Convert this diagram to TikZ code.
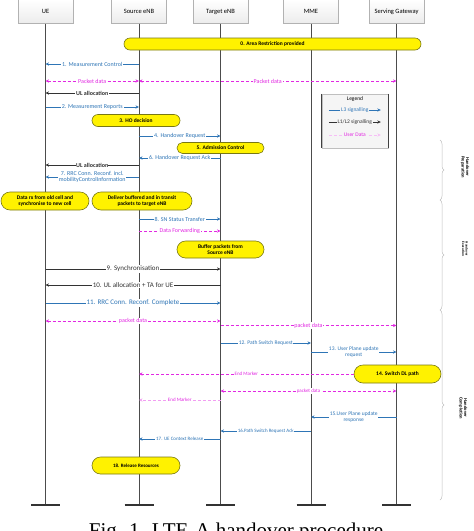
\documentclass[tikz,border=0pt]{standalone}
\usepackage{fontspec}
\setmainfont{Carlito}
\newfontfamily\capfont{Liberation Serif}
\usetikzlibrary{arrows.meta,shapes.misc,decorations.pathreplacing}
\definecolor{sigblue}{RGB}{46,117,182}
\definecolor{umag}{RGB}{226,40,226}
\definecolor{pillline}{RGB}{120,120,20}
\newcommand\fsz[1]{\fontsize{#1}{#1}\selectfont}
\tikzset{
  actor/.style={draw=gray!60, top color=white, bottom color=gray!15, minimum width=55pt, minimum height=24pt, font=\fsz{6.5}},
  life/.style={draw=gray!60!black, line width=0.9pt},
  foot/.style={draw=gray!40!black, line width=2.6pt},
  pill/.style={rounded rectangle, draw=pillline, line width=0.6pt, fill=yellow, font=\bfseries\fsz{5.5}, align=center, inner sep=1pt},
  tip/.style={-{Stealth[length=3.5pt,width=3.2pt]}},
  l3/.style={color=sigblue, line width=0.7pt, tip},
  l12/.style={color=black!80, line width=0.7pt, tip},
  udata/.style={color=umag, line width=0.7pt, dash pattern=on 3pt off 2pt, tip},
  ubi/.style={udata, {Stealth[length=3.5pt,width=3.2pt]}-{Stealth[length=3.5pt,width=3.2pt]}},
  lbl/.style={fill=white, inner sep=0.8pt, font=\fsz{6}, align=center},
  phase/.style={font=\bfseries\fsz{4.5}, align=center, rotate=-90, inner sep=0pt},
  brace/.style={draw=gray!50, line width=0.5pt, decorate, decoration={brace, amplitude=4pt}}
}
\begin{document}
\begin{tikzpicture}[x=1pt, y=-1pt]
  \useasboundingbox (0,0) rectangle (474,531);

  \node[actor] (ue) at (45.5,11.5) {UE};
  \node[actor] (seNB) at (139,11.5) {Source eNB};
  \node[actor] (teNB) at (220.5,11.5) {Target eNB};
  \node[actor] (mme) at (311,11.5) {MME};
  \node[actor] (sgw) at (396.5,11.5) {Serving Gateway};
  \foreach \n in {ue,seNB,teNB,mme,sgw} {
    \coordinate (\n-end) at (\n |- 0,505);
    \draw[life] (\n.south) -- (\n-end);
    \draw[foot] (\n-end) ++(-14.5,0) -- ++(29,0);
  }

  \node[pill, minimum width=299pt, minimum height=12pt] (ar) at (272.5,44) {0. Area Restriction provided};
  \draw[l3] (seNB |- 0,64) -- node[lbl]{1. Measurement Control} (ue |- 0,64);
  \draw[ubi] (ue |- 0,81) -- node[lbl]{Packet data} (seNB |- 0,81);
  \draw[ubi] (seNB |- 0,81) -- node[lbl]{Packet data} (sgw |- 0,81);
  \draw[l12] (seNB |- 0,93) -- node[lbl, font=\bfseries\fsz{6}]{UL allocation} (ue |- 0,93);
  \draw[l3] (ue |- 0,107) -- node[lbl]{2. Measurement Reports} (seNB |- 0,107);
  \node[pill, minimum width=90pt, minimum height=12pt] (hod) at (136,120.5) {3. HO decision};
  \draw[l3] (seNB |- 0,136) -- node[lbl]{4. Handover Request} (teNB |- 0,136);
  \node[pill, minimum width=89pt, minimum height=11pt] (adm) at (220.5,148) {5. Admission Control};
  \draw[l3] (teNB |- 0,158) -- node[lbl]{6. Handover Request Ack} (seNB |- 0,158);
  \draw[l12] (seNB |- 0,165) -- node[lbl, font=\bfseries\fsz{6}, inner sep=0pt]{UL allocation} (ue |- 0,165);
  \draw[l3] (seNB |- 0,177) -- node[lbl]{7. RRC Conn. Reconf. incl.\\mobilityControlInformation} (ue |- 0,177);
  \node[pill, minimum width=90pt, minimum height=18pt] (sync) at (45,201) {Data rx from old cell and\\synchronise to new cell};
  \node[pill, minimum width=102pt, minimum height=18pt] (dlv) at (142,201) {Deliver buffered and in transit\\packets to target eNB};
  \draw[l3] (seNB |- 0,219) -- node[lbl]{8. SN Status Transfer} (teNB |- 0,219);
  \draw[udata] (seNB |- 0,231) -- node[lbl]{Data Forwarding} (teNB |- 0,231);
  \node[pill, minimum width=89pt, minimum height=17pt] (buf) at (220.5,249.5) {Buffer packets from\\Source eNB};
  \draw[l12] (ue |- 0,269) -- node[lbl, font=\fsz{7}]{9. Synchronisation} (teNB |- 0,269);
  \draw[l12] (teNB |- 0,285) -- node[lbl, font=\fsz{7}]{10. UL allocation + TA for UE} (ue |- 0,285);
  \draw[l3] (ue |- 0,303) -- node[lbl, font=\fsz{7}]{11. RRC Conn. Reconf. Complete} (teNB |- 0,303);
  \draw[ubi] (ue |- 0,321) -- node[lbl]{packet data} (teNB |- 0,321);
  \draw[udata] (teNB |- 0,325.5) -- node[lbl]{packet data} (sgw |- 0,325.5);
  \draw[l3] (teNB |- 0,343) -- node[lbl, font=\fsz{5.5}]{12. Path Switch Request} (mme |- 0,343);
  \draw[l3] (mme |- 0,352) -- node[lbl, font=\fsz{5.5}]{13. User Plane update\\request} (sgw |- 0,352);
  \node[pill, minimum width=89pt, minimum height=18pt] (sw) at (397.5,374) {14. Switch DL path};
  \draw[udata] (sw.west) -- node[lbl, font=\fsz{5}]{End Marker} (seNB |- sw.west);
  \draw[ubi] (teNB |- 0,391) -- node[lbl, font=\fsz{5}]{packet data} (sgw |- 0,391);
  \draw[udata, umag!45] (teNB |- 0,400) -- node[lbl, font=\fsz{5}, text=umag]{End Marker} (seNB |- 0,400);
  \draw[l3] (sgw |- 0,417) -- node[lbl, font=\fsz{5.5}]{15.User Plane update\\response} (mme |- 0,417);
  \draw[l3] (mme |- 0,431) -- node[lbl, font=\fsz{5}]{16.Path Switch Request Ack} (teNB |- 0,431);
  \draw[l3] (teNB |- 0,439) -- node[lbl, font=\fsz{5}]{17. UE Context Release} (seNB |- 0,439);
  \node[pill, minimum width=90pt, minimum height=17pt, font=\bfseries\fsz{5}] (rel) at (136,465.5) {18. Release Resources};

  \node[draw=gray!50, fill=gray!8, minimum width=66pt, minimum height=54pt] (leg) at (355,121) {};
  \draw[gray!50!black, line width=1pt] (leg.north west) -- (leg.south west) (leg.north east) -- (leg.south east);
  \node[font=\fsz{5.5}] (legt) at (355,99) {Legend};
  \draw[l3] (leg.west |- 0,110) ++(7,0) -- node[lbl, fill=gray!8, font=\fsz{5.5}]{L3 signalling} ++(52,0);
  \draw[l12] (leg.west |- 0,122) ++(7,0) -- node[lbl, fill=gray!8, font=\fsz{5.5}]{L1/L2 signalling} ++(52,0);
  \draw[udata, umag!30] (leg.west |- 0,135) ++(7,0) -- node[lbl, fill=gray!8, font=\fsz{5.5}, text=umag]{User Data} ++(52,0);

  \draw[brace] (440,140) -- (440,200);
  \draw[brace] (440,200) -- (440,310);
  \draw[brace] (440,310) -- (440,500);
  \node[phase] (prep) at (465,167) {Handover\\Preparation};
  \node[phase, font=\bfseries\fsz{3.5}] (exec) at (465,249) {Handover\\Execution};
  \node[phase] (comp) at (463,408) {Handover\\Completion};

  \node[font=\capfont\fsz{21}, anchor=base] (cap) at (236,537) {Fig. 1. LTE-A handover procedure};
\end{tikzpicture}
\end{document}
